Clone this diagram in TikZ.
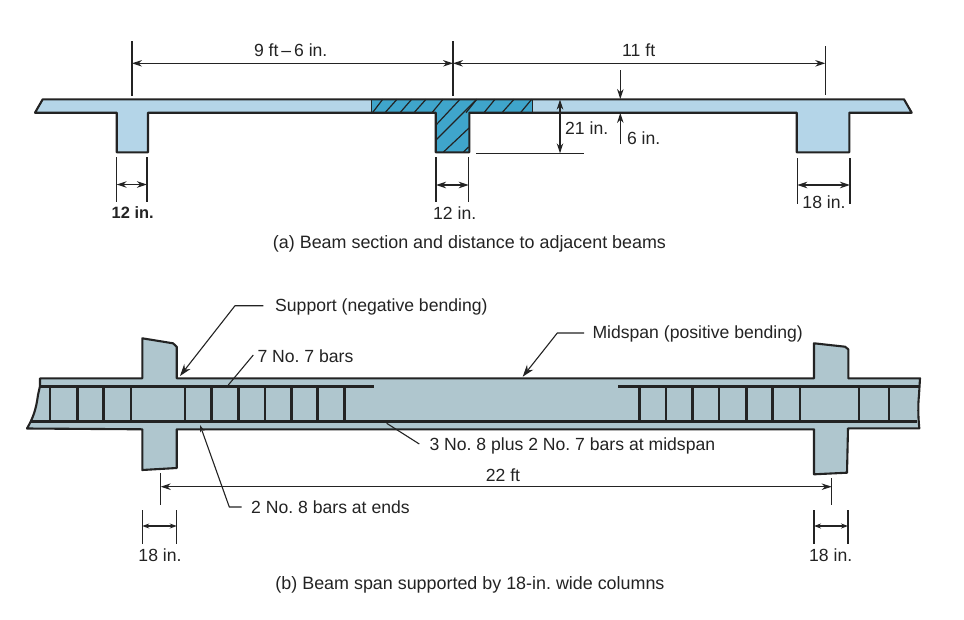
\documentclass[tikz,border=0pt]{standalone}
\usepackage{fontspec}
\setmainfont{Liberation Sans}
\usetikzlibrary{arrows.meta}
\definecolor{slabblue}{HTML}{B4D5E8}
\definecolor{hatchblue}{HTML}{3FA5CB}
\definecolor{spangrey}{HTML}{AFC6CE}
\definecolor{inkdark}{HTML}{232323}
\tikzset{
  outline/.style={draw=inkdark,line width=2.1pt,line join=round},
  hatchline/.style={draw=inkdark,line width=1.2pt},
  barline/.style={draw=inkdark,line width=3.2pt},
  stirrup/.style={draw=inkdark,line width=2.8pt},
  extline/.style={draw=inkdark,line width=1.1pt},
  dimline/.style={draw=inkdark,line width=1.1pt,{Stealth[length=10pt,width=6.5pt]}-{Stealth[length=10pt,width=6.5pt]}},
  smalldim/.style={draw=inkdark,line width=1.1pt,{Stealth[length=7pt,width=5pt]}-{Stealth[length=7pt,width=5pt]}},
  onetip/.style={draw=inkdark,line width=1.1pt,-{Stealth[length=10pt,width=6.5pt]}},
  leader/.style={draw=inkdark,line width=1.1pt,line join=round},
  leadertip/.style={leader,-{Stealth[length=12pt,width=8pt]}},
  lbl/.style={font=\fontsize{17.6}{20}\selectfont\frenchspacing,text=inkdark,inner sep=0pt},
  lblw/.style={lbl,anchor=west},
  caplbl/.style={lbl,font=\fontsize{17.9}{20}\selectfont\frenchspacing},
}
\begin{document}
\begin{tikzpicture}[x=1pt,y=-1pt]
\fill[white] (0,0) rectangle (964,619);
\useasboundingbox (0,0) rectangle (964,619);

% ---------- (a) section
\path[fill=slabblue] (42.7,99.3) -- (904,99.3) -- (911.7,112.7) -- (849.3,112.7) -- (849.3,152.3) -- (796.7,152.3) -- (796.7,112.7) -- (148,112.7) -- (148,152.3) -- (116.7,152.3) -- (116.7,112.7) -- (35,112.7) -- cycle;
\path[fill=hatchblue] (371.7,99.3) -- (532.7,99.3) -- (532.7,112.7) -- (469.3,112.7) -- (469.3,152.3) -- (435.7,152.3) -- (435.7,112.7) -- (371.7,112.7) -- cycle;
\foreach \xa/\xb in {382.7/372.5,397/385,411.7/400,426/414,443/432,495/484,514/502,531.7/520.5,476.7/466}
  \draw[hatchline] (\xa,99.3) -- (\xb,112.7);
\draw[hatchline] (460,99.3) -- (436,125);
\draw[hatchline] (476.7,99.3) -- (436,140);
\draw[hatchline] (469,128) -- (443.5,152);
\draw[hatchline] (468.5,147) -- (463.5,152);
\draw[draw=inkdark,line width=1pt] (371.7,99.3) -- (371.7,112.7);
\draw[draw=inkdark,line width=1pt] (532.7,99.3) -- (532.7,112.7);
\draw[outline] (35,112.7) -- (42.7,99.3) -- (904,99.3) -- (911.7,112.7) -- (849.3,112.7) -- (849.3,152.3) -- (796.7,152.3) -- (796.7,112.7) -- (469.3,112.7) -- (469.3,152.3) -- (435.7,152.3) -- (435.7,112.7) -- (148,112.7) -- (148,152.3) -- (116.7,152.3) -- (116.7,112.7) -- cycle;

% dimension coordinates, (a)
\coordinate (e1t) at (132,41);   \coordinate (e1b) at (132,96);
\coordinate (e2t) at (453,41);   \coordinate (e2b) at (453,96);
\coordinate (e3t) at (825.3,46); \coordinate (e3b) at (825.3,95);
\coordinate (d1) at (132,63.3);  \coordinate (d2) at (453,63.3); \coordinate (d3) at (825.3,63.3);
\draw[extline] (e1t) -- (e1b);
\draw[extline] (e2t) -- (e2b);
\draw[extline] (e3t) -- (e3b);
\draw[dimline] (d1) -- (d2);
\draw[dimline] (d2) -- (d3);
\node[lbl] (t9ft) at (290.7,50.5) {9 ft\,–\,6 in.};
\node[lbl] (t11ft) at (638.7,50.5) {11 ft};

\foreach \n/\x/\ya/\yb in {p/116.7/157/202,q/147/157/202,r/436/157/202,s/468.7/157/202,u/797.3/158/204,v/850/158/204}{
  \coordinate (\n t) at (\x,\ya); \coordinate (\n b) at (\x,\yb);
  \draw[extline] (\n t) -- (\n b);
}
\coordinate (pm) at (116.7,184.5); \coordinate (qm) at (147,184.5);
\coordinate (rm) at (436,185);     \coordinate (sm) at (468.7,185);
\coordinate (um) at (797.3,185);   \coordinate (vm) at (850,185);
\draw[dimline] (pm) -- (qm);
\draw[dimline] (rm) -- (sm);
\draw[dimline] (um) -- (vm);
\node[lbl,font=\fontsize{16.4}{20}\selectfont] (t12a) at (132.7,213) {\textbf{12 in.}};
\node[lbl] (t12b) at (454.7,213) {12 in.};
\node[lbl] (t18a) at (824,202.7) {18 in.};

\coordinate (h21a) at (476,153.3); \coordinate (h21b) at (584.3,153.3);
\draw[extline] (h21a) -- (h21b);
\coordinate (a21t) at (560,99.5); \coordinate (a21b) at (560,153.3);
\draw[dimline] (a21t) -- (a21b);
\node[lbl] (t21) at (586.7,127.7) {21 in.};
\coordinate (a6a) at (620.3,70); \coordinate (a6b) at (620.3,99);
\coordinate (a6c) at (620.3,144); \coordinate (a6d) at (620.3,113);
\draw[onetip] (a6a) -- (a6b);
\draw[onetip] (a6c) -- (a6d);
\node[lbl] (t6) at (643.7,138) {6 in.};
\node[caplbl] (capa) at (469.5,243.5) {(a) Beam section and distance to adjacent beams};

% ---------- (b) span
\def\spanshape{(40,378.3) -- (142.3,378.3) -- (142.3,338.3) -- (173,343.3) -- (176.7,346.7) -- (176.7,378.3) -- (814,378.3) -- (814,343.3) -- (845,346.7) -- (848.3,349.3) -- (848.3,378.3) -- (920,378.3) -- (919,395) .. controls (918,405) and (918,415) .. (919.3,428.3) -- (848,428.3) -- (847,472.7) -- (814,474.3) -- (814,429.3) -- (176.7,429.3) -- (176.7,468) -- (142.3,470) -- (142.3,429.3) -- (27,428.5) .. controls (33,418) and (36,410) .. (38,395) -- (40,386) -- cycle}
\path[fill=spangrey] \spanshape;
\draw[outline] (40,386) -- (40,378.3) -- (142.3,378.3) -- (142.3,338.3) -- (173,343.3) -- (176.7,346.7) -- (176.7,378.3) -- (814,378.3) -- (814,343.3) -- (845,346.7) -- (848.3,349.3) -- (848.3,378.3) -- (920,378.3) -- (919,395) .. controls (918,405) and (918,415) .. (919.3,428.3) -- (848,428.3) -- (847,472.7) -- (814,474.3) -- (814,429.3) -- (176.7,429.3) -- (176.7,468) -- (142.3,470) -- (142.3,429.3) -- (27,428.5) .. controls (33,418) and (36,410) .. (38,395) -- (40,386);
\foreach \x in {50,77.7,103.3,131,185,211.7,238.3,265,291.7,317.7,344.3,639.3,666,692.3,719,746.7,772.3,800,859,889}
  \draw[stirrup] (\x,386.7) -- (\x,421.7);
\coordinate (bar1a) at (40,386.7);    \coordinate (bar1b) at (374,386.7);
\coordinate (bar2a) at (618.3,386.7); \coordinate (bar2b) at (919.3,386.7);
\coordinate (bar3a) at (31,421.7);    \coordinate (bar3b) at (917,421.7);
\draw[barline] (bar1a) -- (bar1b);
\draw[barline] (bar2a) -- (bar2b);
\draw[barline] (bar3a) -- (bar3b);

% leaders
\node[lblw] (tsup) at (275,306.8) {Support (negative bending)};
\coordinate (l1a) at (263.3,305.7); \coordinate (l1b) at (235,305.7); \coordinate (l1c) at (180,376);
\draw[leadertip] (l1a) -- (l1b) -- (l1c);
\node[lblw] (t7) at (257.3,356) {7 No. 7 bars};
\coordinate (l2a) at (253.3,355); \coordinate (l2b) at (228.3,385);
\draw[leader] (l2a) -- (l2b);
\node[lblw] (t3) at (429.3,445.5) {3 No. 8 plus 2 No. 7 bars at midspan};
\coordinate (l3a) at (419.3,444); \coordinate (l3b) at (386.7,423.3);
\draw[leader] (l3a) -- (l3b);
\node[lblw] (t2) at (251,507.3) {2 No. 8 bars at ends};
\coordinate (l4a) at (241.7,507); \coordinate (l4b) at (229.3,507); \coordinate (l4c) at (200,425);
\draw[draw=inkdark,line width=1.1pt,line join=round,-{Stealth[length=7pt,width=4.5pt]}] (l4a) -- (l4b) -- (l4c);
\node[lblw] (tmid) at (592.3,333.5) {Midspan (positive bending)};
\coordinate (l5a) at (584,333); \coordinate (l5b) at (557.3,333); \coordinate (l5c) at (522.7,376.7);
\draw[leadertip] (l5a) -- (l5b) -- (l5c);

% dimensions, (b)
\coordinate (f1t) at (160.7,473); \coordinate (f1b) at (160.7,505);
\coordinate (f2t) at (831.7,478); \coordinate (f2b) at (831.7,505);
\coordinate (g1) at (160.7,486.7); \coordinate (g2) at (831.7,486.7);
\draw[extline] (f1t) -- (f1b);
\draw[extline] (f2t) -- (f2b);
\draw[dimline] (g1) -- (g2);
\node[lbl] (t22) at (503,475) {22 ft};
\foreach \n/\x in {k/142.3,l/176.7,m/814,o/848}{
  \coordinate (\n t) at (\x,510); \coordinate (\n b) at (\x,544.3);
  \draw[extline] (\n t) -- (\n b);
}
\coordinate (km) at (142.3,526); \coordinate (lm) at (176.7,526);
\coordinate (mm) at (814,526);   \coordinate (om) at (848,526);
\draw[smalldim] (km) -- (lm);
\draw[smalldim] (mm) -- (om);
\node[lbl] (t18b) at (160,555.7) {18 in.};
\node[lbl] (t18c) at (830.7,555.7) {18 in.};
\node[caplbl] (capb) at (470,584.5) {(b) Beam span supported by 18-in. wide columns};
\end{tikzpicture}
\end{document}
